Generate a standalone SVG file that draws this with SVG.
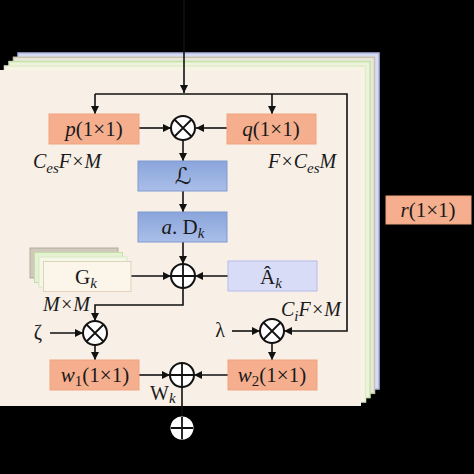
<svg xmlns="http://www.w3.org/2000/svg" width="474" height="474" viewBox="0 0 474 474">
<defs>
<style>
.t{font-family:"Liberation Serif","DejaVu Serif",serif;font-size:21px;fill:#1a1a1a;text-anchor:middle}
.lb{font-family:"Liberation Serif","DejaVu Serif",serif;font-size:20px;fill:#1a1a1a;font-style:italic}
.i{font-style:italic}
.sal{fill:#F5AF8E;stroke:#F1A27F;stroke-width:1}
.blu{fill:url(#bg);stroke:#7E9AD2;stroke-width:1}
.ln{fill:none;stroke:#111;stroke-width:1.6}
.op{fill:#fff;stroke:#111;stroke-width:2}
.cr{stroke:#111;stroke-width:1.8}
</style>
<linearGradient id="bg" x1="0" y1="0" x2="0" y2="1">
<stop offset="0" stop-color="#8AA5DB"/>
<stop offset="1" stop-color="#AABEE8"/>
</linearGradient>
<marker id="ah" markerUnits="userSpaceOnUse" markerWidth="8" markerHeight="8" refX="8" refY="4" orient="auto">
<path d="M0,0 L8,4 L0,8 z" fill="#111"/>
</marker>
</defs>
<rect x="0" y="0" width="474" height="474" fill="#000"/>

<g id="pages">
<rect x="18" y="53" width="361" height="336" fill="#D8DCF3" stroke="#AEB6E2" stroke-width="1.5"/>
<rect x="13.5" y="57.3" width="361" height="336" fill="#E9E6DA" stroke="#C9C2AE" stroke-width="1.5"/>
<rect x="9" y="61.6" width="361" height="336" fill="#EAF5DC" stroke="#C8E2AA" stroke-width="1.5"/>
<rect x="4.5" y="66" width="361" height="336" fill="#F6F4E2" stroke="#E4E9CC" stroke-width="1.5"/>
<rect x="0" y="70" width="361" height="336" fill="#F8F0E7"/>
</g>

<g id="connectors">
<path class="ln" d="M184 0 V93" marker-end="url(#ah)"/>
<path class="ln" d="M95 94 H347 V331 H284" marker-end="url(#ah)"/>
<path class="ln" d="M95 94 V114" marker-end="url(#ah)"/>
<path class="ln" d="M272 94 V114" marker-end="url(#ah)"/>
<path class="ln" d="M139 128 H171" marker-end="url(#ah)"/>
<path class="ln" d="M227 128 H196" marker-end="url(#ah)"/>
<path class="ln" d="M183 140 V161" marker-end="url(#ah)"/>
<path class="ln" d="M183 191 V212" marker-end="url(#ah)"/>
<path class="ln" d="M183 242 V264" marker-end="url(#ah)"/>
<path class="ln" d="M131 276 H171" marker-end="url(#ah)"/>
<path class="ln" d="M228 276 H195" marker-end="url(#ah)"/>
<path class="ln" d="M183 288 V305 H95 V321" marker-end="url(#ah)"/>
<path class="ln" d="M50 333 H83" marker-end="url(#ah)"/>
<path class="ln" d="M95 345 V360" marker-end="url(#ah)"/>
<path class="ln" d="M232 331 H260" marker-end="url(#ah)"/>
<path class="ln" d="M272 343 V360" marker-end="url(#ah)"/>
<path class="ln" d="M139 375 H170" marker-end="url(#ah)"/>
<path class="ln" d="M228 375 H194" marker-end="url(#ah)"/>
<path class="ln" d="M182 387 V417"/>
</g>

<g id="p"><rect class="sal" x="49" y="114" width="90" height="30"/><text class="t" x="94" y="136"><tspan class="i">p</tspan>(1×1)</text></g>
<g id="q"><rect class="sal" x="227" y="114" width="89" height="30"/><text class="t" x="271" y="136"><tspan class="i">q</tspan>(1×1)</text></g>
<g id="r"><rect class="sal" x="386" y="196" width="85" height="28"/><text class="t" x="428" y="217"><tspan class="i">r</tspan>(1×1)</text></g>
<g id="mul1"><circle class="op" cx="183" cy="128" r="12"/><path class="cr" d="M174.5 119.5 L191.5 136.5 M191.5 119.5 L174.5 136.5"/></g>
<g id="L"><rect class="blu" x="138" y="161" width="89" height="30"/><text class="t" x="183" y="184" style="font-family:'DejaVu Sans',sans-serif;font-size:23px">ℒ</text></g>
<g id="aD"><rect class="blu" x="138" y="212" width="89" height="30"/><text class="t" x="183" y="234"><tspan class="i">a</tspan>. D<tspan class="i" font-size="15" dy="4">k</tspan></text></g>
<g id="G">
<rect x="30" y="248" width="88" height="30" fill="#D1CABC" stroke="#B3AC9C" stroke-width="1"/>
<rect x="34.5" y="252.5" width="88" height="30" fill="#E4F2D2" stroke="#C3DEA6" stroke-width="1"/>
<rect x="39" y="257" width="88" height="30" fill="#F2F7E6" stroke="#D9E7C4" stroke-width="1"/>
<rect x="43.5" y="261.5" width="87.5" height="30" fill="#FBF5EA" stroke="#E0D2BB" stroke-width="1"/>
<text class="t" x="86" y="284">G<tspan class="i" font-size="15" dy="4">k</tspan></text>
</g>
<g id="add1"><circle class="op" cx="183" cy="276" r="12"/><path class="cr" d="M183 264 V288 M171 276 H195"/></g>
<g id="A"><rect x="228" y="261" width="89" height="30" fill="#D9DCF6" stroke="#B5BCEA" stroke-width="1"/><text class="t" x="271" y="284">Â<tspan class="i" font-size="15" dy="4">k</tspan></text></g>
<g id="mul2"><circle class="op" cx="95" cy="333" r="12"/><path class="cr" d="M86.5 324.5 L103.5 341.5 M103.5 324.5 L86.5 341.5"/></g>
<g id="mul3"><circle class="op" cx="272" cy="331" r="12"/><path class="cr" d="M263.5 322.5 L280.5 339.5 M280.5 322.5 L263.5 339.5"/></g>
<g id="w1"><rect class="sal" x="50" y="360" width="89" height="30"/><text class="t" x="95" y="382"><tspan class="i">w</tspan><tspan font-size="15" dy="4">1</tspan><tspan dy="-4">(1×1)</tspan></text></g>
<g id="w2"><rect class="sal" x="228" y="360" width="89" height="30"/><text class="t" x="272" y="382"><tspan class="i">w</tspan><tspan font-size="15" dy="4">2</tspan><tspan dy="-4">(1×1)</tspan></text></g>
<g id="add2"><circle class="op" cx="182" cy="375" r="12"/><path class="cr" d="M182 363 V387 M170 375 H194"/></g>
<g id="add3"><circle cx="182" cy="428" r="11.5" fill="#fff"/><path class="cr" d="M182 417 V439 M171 428 H193"/></g>

<g id="labels">
<text class="lb" x="33" y="168">C<tspan font-size="15" dy="5">es</tspan><tspan dy="-5">F×M</tspan></text>
<text class="lb" x="268" y="168">F×C<tspan font-size="15" dy="5">es</tspan><tspan dy="-5">M</tspan></text>
<text class="lb" x="43" y="311">M×M</text>
<text class="lb" x="281" y="316">C<tspan font-size="15" dy="5">i</tspan><tspan dy="-5">F×M</tspan></text>
<text class="lb" x="38" y="339" style="font-style:normal;text-anchor:middle">ζ</text>
<text class="lb" x="220" y="337" style="font-style:normal;text-anchor:middle">λ</text>
<text class="lb" x="150" y="400" style="font-style:normal">W<tspan font-style="italic" font-size="15" dy="3">k</tspan></text>
</g>
</svg>
